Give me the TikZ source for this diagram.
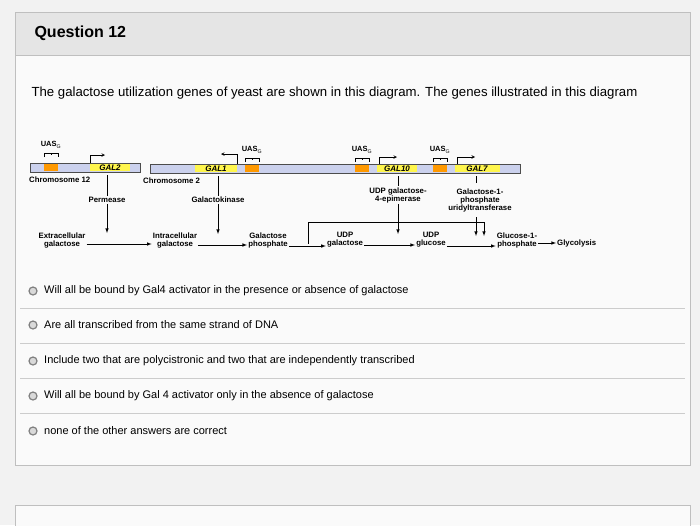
\documentclass[tikz,border=0pt]{standalone}
\usepackage{fontspec}
\setmainfont{Liberation Sans}
\newfontfamily\lab{Liberation Sans}
\begin{document}
\begin{tikzpicture}[x=1pt,y=-1pt,
 lbl/.style={font=\lab\bfseries\fontsize{7.8}{8}\selectfont,align=center,inner sep=1pt},
 gene/.style={font=\lab\bfseries\itshape\fontsize{8}{8}\selectfont,inner sep=0pt},
 conn/.style={->,>=latex,line width=0.6pt},
 lin/.style={line width=0.6pt},
 bar/.style={fill=cyan!35!blue!20!white,draw=black!70,line width=0.5pt},
 ygene/.style={fill=yellow!70!white},
 uas/.style={fill=orange!80!yellow},
 opt/.style={font=\fontsize{11}{13}\selectfont,anchor=west,inner sep=0pt},
 radio/.style={circle,draw=gray,fill=gray!30,line width=1.2pt,minimum size=8pt,inner sep=0pt},
 sep/.style={draw=gray!40,line width=0.6pt}]
\useasboundingbox (0,0) rectangle (700,525);
\fill[gray!10] (0,0) rectangle (700,525);
\draw[gray!50,fill=white!96!gray] (15,12) rectangle (690,465);
\fill[gray!20] (15.5,12.5) rectangle (689.5,55);
\draw[gray!50] (15,55) -- (690,55);
\node[font=\bfseries\fontsize{16}{18}\selectfont,anchor=west] (q) at (31,33) {Question 12};
\draw[gray!50,fill=white!96!gray] (15,505) rectangle (690,530);
\node[font=\fontsize{13.2}{15}\selectfont,anchor=west] (txt) at (28,93) {The galactose utilization genes of yeast are shown in this diagram. The genes illustrated in this diagram};
% chromosomes
\draw[bar] (30,163) rectangle (140,172);
\fill[uas] (44,164) rectangle (58,171);
\fill[ygene] (90,164) rectangle (130,171);
\node[gene] (g2) at (110,167.5) {GAL2};
\draw[bar] (150,164) rectangle (520,173);
\fill[ygene] (195,165) rectangle (237,172);
\node[gene] (g1) at (216,168.5) {GAL1};
\fill[uas] (245,165) rectangle (259,172);
\fill[uas] (355,165) rectangle (369,172);
\fill[ygene] (377,165) rectangle (417,172);
\node[gene] (g10) at (397,168.5) {GAL10};
\fill[uas] (433,165) rectangle (447,172);
\fill[ygene] (455,165) rectangle (500,172);
\node[gene] (g7) at (477,168.5) {GAL7};
\node[lbl,anchor=west] (c12) at (28,180) {Chromosome 12};
\node[lbl,anchor=west] (c2) at (142,181) {Chromosome 2};
% UAS labels and brackets
\foreach \x/\y/\n in {51/145/u1,252/150/u2,362/150/u3,440/150/u4}{
 \node[lbl,font=\lab\bfseries\fontsize{7.5}{7.5}\selectfont] (\n) at (\x,\y) {UAS$_{\mathrm G}$};
 \draw[lin,line width=0.4pt] (\x-7,\y+12) -- (\x-7,\y+8) -- (\x+7,\y+8) -- (\x+7,\y+12) (\x,\y+8)--(\x,\y+10);
}
% promoter arrows
\draw[conn,->,>=stealth] (90,163) -- (90,155) -- (105,155);
\draw[conn,->,>=stealth] (237,164) -- (237,154) -- (221,154);
\draw[conn,->,>=stealth] (379,164) -- (379,157) -- (397,157);
\draw[conn,->,>=stealth] (457,164) -- (457,157) -- (475,157);
% pathway
\node[lbl] (ext) at (62,240) {Extracellular\\galactose};
\node[lbl] (int) at (175,240) {Intracellular\\galactose};
\node[lbl] (gp) at (268,240) {Galactose\\phosphate};
\node[lbl] (udpgal) at (345,240) {UDP\\galactose};
\node[lbl] (udpglc) at (431,240) {UDP\\glucose};
\node[lbl] (g1p) at (517,240) {Glucose-1-\\phosphate};
\node[lbl,anchor=west] (gly) at (556,243) {Glycolysis};
\draw[conn] (ext.east|-0,244) -- (int.west|-0,244);
\draw[conn] (int.east|-0,245) -- (gp.west|-0,245);
\draw[conn] (gp.east|-0,246) -- (udpgal.west|-0,246);
\draw[conn] (udpgal.east|-0,245) -- (udpglc.west|-0,245);
\draw[conn] (udpglc.east|-0,246) -- (g1p.west|-0,246);
\draw[conn] (g1p.east|-0,243) -- (gly.west);
% enzymes
\node[lbl,fill=white!96!gray] (perm) at (107,200) {Permease};
\node[lbl,fill=white!96!gray] (gk) at (218,200) {Galactokinase};
\node[lbl,fill=white!96!gray] (epi) at (398,195) {UDP galactose-\\4-epimerase};
\node[lbl,fill=white!96!gray] (ut) at (480,200) {Galactose-1-\\phosphate\\uridyltransferase};
\coordinate (utb) at (476,217);
\draw[lin] (107,175) -- (perm.north);
\draw[conn] (perm.south) -- (107,233);
\draw[lin] (218,176) -- (gk.north);
\draw[conn] (gk.south) -- (218,234);
\draw[lin] (398,176) -- (epi.north);
\draw[conn] (epi.south) -- (398,234);
\draw[lin] (476,176) -- (476,183);
\draw[conn] (utb) -- (476,236);
\draw[conn] (308,244) -- (308,222) -- (484,222) -- (484,236);
% options
\foreach \y/\t/\n in {291/{Will all be bound by Gal4 activator in the presence or absence of galactose}/o1,
 325/{Are all transcribed from the same strand of DNA}/o2,
 361/{Include two that are polycistronic and two that are independently transcribed}/o3,
 396/{Will all be bound by Gal 4 activator only in the absence of galactose}/o4,
 431/{none of the other answers are correct}/o5}{
 \node[radio] (r\n) at (33,\y) {};
 \node[opt] (\n) at (44,\y) {\t};
}
\foreach \y in {308,343,378,413}{\draw[sep] (20,\y) -- (685,\y);}
\end{tikzpicture}
\end{document}
